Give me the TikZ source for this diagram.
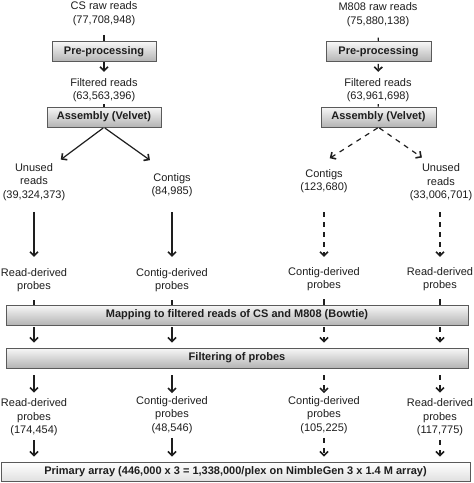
\documentclass[tikz,border=0pt]{standalone}
\usepackage{fontspec}
\setmainfont{Liberation Sans}
\usetikzlibrary{arrows.meta,calc}
\definecolor{txt}{HTML}{1E1E1E}
\definecolor{boxline}{HTML}{5A5A5A}
\definecolor{boxbot}{HTML}{B4B4B4}
\definecolor{arrcol}{HTML}{1E1E1E}
\tikzset{
  lbl/.style={inner sep=0pt,align=center,text=txt,font=\fontsize{11}{13.5}\selectfont},
  procbox/.style={draw=boxline,line width=0.8pt,inner sep=0pt,top color=white!97!black,bottom color=boxbot,
    text=txt,font=\bfseries\fontsize{11}{13.5}\selectfont,minimum height=20pt},
  wbox/.style={draw=boxline,line width=0.8pt,inner sep=0pt,top color=white,bottom color=white!88!black,
    text=txt,font=\bfseries\fontsize{11}{13.5}\selectfont,minimum height=19pt},
  conn/.style={draw=arrcol,line width=1.2pt},
  arr/.style={conn,-{Straight Barb[length=4pt,width=8pt,line width=1.6pt]}},
  dconn/.style={conn,dash pattern=on 5pt off 5pt},
  darr/.style={dconn,-{Straight Barb[length=4pt,width=8pt,line width=1.6pt]}},
}
\begin{document}
\begin{tikzpicture}[x=1pt,y=-1pt]
\useasboundingbox[fill=white] (0,0) rectangle (474,483);
% ---- left column (CS)
\node[lbl] (csraw) at (104,13.7) {CS raw reads\\(77,708,948)};
\node[procbox,minimum width=104pt] (pre1) at (104,51.5) {Pre-processing};
\node[lbl] (filt1) at (104,90) {Filtered reads\\(63,563,396)};
\node[procbox,minimum width=114pt] (asm1) at (104,117) {Assembly (Velvet)};
\node[lbl] (unused1) at (34,182) {Unused\\reads\\(39,324,373)};
\node[lbl] (contigs1) at (172,185) {Contigs\\(84,985)};
\node[lbl] (rdp1) at (34,280) {Read-derived\\probes};
\node[lbl] (cdp1) at (172,280) {Contig-derived\\probes};
% ---- right column (M808)
\node[lbl] (mraw) at (378,14.5) {M808 raw reads\\(75,880,138)};
\node[procbox,minimum width=105pt] (pre2) at (378.5,51.5) {Pre-processing};
\node[lbl] (filt2) at (378,90) {Filtered reads\\(63,961,698)};
\node[procbox,minimum width=115pt] (asm2) at (378.5,117) {Assembly (Velvet)};
\node[lbl] (contigs2) at (324,181) {Contigs\\(123,680)};
\node[lbl] (unused2) at (441,182.6) {Unused\\reads\\(33,006,701)};
\node[lbl] (cdp2) at (324,279) {Contig-derived\\probes};
\node[lbl] (rdp2) at (440,279) {Read-derived\\probes};
% ---- wide boxes
\node[procbox,minimum width=462pt] (mapping) at (237,315) {Mapping to filtered reads of CS and M808 (Bowtie)};
\node[procbox,minimum width=462pt] (filtering) at (237,358) {Filtering of probes};
% ---- final probes
\node[lbl] (rdp1b) at (34,417.5) {Read-derived\\probes\\(174,454)};
\node[lbl] (cdp1b) at (172,415) {Contig-derived\\probes\\(48,546)};
\node[lbl] (cdp2b) at (324,415) {Contig-derived\\probes\\(105,225)};
\node[lbl] (rdp2b) at (440,417.5) {Read-derived\\probes\\(117,775)};
\node[wbox,minimum width=469pt] (primary) at (235.5,471.5) {Primary array (446,000 x 3 = 1,338,000/plex on NimbleGen 3 x 1.4 M array)};
% ---- left connectors
\draw[conn,shorten <=9pt] (csraw) -- (pre1);
\draw[arr,shorten >=6pt] (pre1) -- (filt1);
\draw[conn,shorten <=2pt] (filt1) -- (asm1);
\draw[arr,shorten <=1pt,shorten >=6pt] (asm1.south) -- ($(unused1.north)!0.7!(unused1.north east)$);
\draw[arr,shorten <=1pt,shorten >=22pt] (asm1.south) -- ($(contigs1.north west)!0.8!(contigs1.north)$);
\draw[arr,shorten <=11pt,shorten >=11pt] (unused1) -- (rdp1);
\draw[arr,shorten <=15pt,shorten >=11pt] (contigs1) -- (cdp1);
\draw[conn,shorten <=8pt] (rdp1) -- (rdp1 |- mapping.north);
\draw[conn,shorten <=8pt] (cdp1) -- (cdp1 |- mapping.north);
% ---- right connectors
\draw[dconn,shorten <=11pt] (mraw) -- (pre2);
\draw[darr,shorten <=2pt,shorten >=6pt] (pre2) -- (filt2);
\draw[dconn,shorten <=2pt] (filt2) -- (asm2);
\draw[darr,shorten <=1pt,shorten >=20pt] (asm2.south) -- ($(contigs2.north west)!0.53!(contigs2.north)$);
\draw[darr,shorten <=1pt,shorten >=11pt] (asm2.south) -- ($(unused2.north west)!0.68!(unused2.north)$);
\draw[darr,shorten <=19pt,shorten >=10pt] (contigs2) -- (cdp2);
\draw[darr,shorten <=11pt,shorten >=10pt] (unused2.south -| rdp2) -- (rdp2);
\draw[conn,shorten <=8pt] (cdp2) -- (cdp2 |- mapping.north);
\draw[conn,shorten <=8pt] (rdp2) -- (rdp2 |- mapping.north);
% ---- mapping -> filtering
\draw[arr,shorten <=2pt,shorten >=5pt] (mapping.south -| rdp1) -- (filtering.north -| rdp1);
\draw[arr,shorten <=2pt,shorten >=5pt] (mapping.south -| cdp1) -- (filtering.north -| cdp1);
\draw[darr,shorten <=2pt,shorten >=5pt] (mapping.south -| cdp2) -- (filtering.north -| cdp2);
\draw[darr,shorten <=2pt,shorten >=5pt] (mapping.south -| rdp2) -- (filtering.north -| rdp2);
% ---- filtering -> final probes
\draw[arr,shorten <=7pt,shorten >=6pt] (filtering.south -| rdp1b) -- (rdp1b);
\draw[arr,shorten <=7pt,shorten >=3pt] (filtering.south -| cdp1b) -- (cdp1b);
\draw[darr,shorten <=7pt,shorten >=3pt] (filtering.south -| cdp2b) -- (cdp2b);
\draw[darr,shorten <=7pt,shorten >=6pt] (filtering.south -| rdp2b) -- (rdp2b);
% ---- final probes -> primary
\draw[arr,shorten <=4pt,shorten >=5pt] (rdp1b) -- (rdp1b |- primary.north);
\draw[arr,shorten <=4pt,shorten >=5pt] (cdp1b) -- (cdp1b |- primary.north);
\draw[darr,shorten <=4pt,shorten >=5pt] (cdp2b) -- (cdp2b |- primary.north);
\draw[darr,shorten <=4pt,shorten >=5pt] (rdp2b) -- (rdp2b |- primary.north);
\end{tikzpicture}
\end{document}
